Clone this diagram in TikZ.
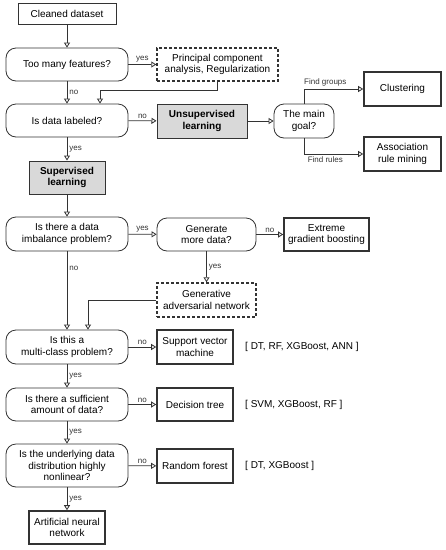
\documentclass[tikz,border=0pt]{standalone}
\usepackage{fontspec}
\setmainfont{Liberation Sans}
\usetikzlibrary{arrows.meta}
\definecolor{ln}{HTML}{333333}
\definecolor{gfill}{HTML}{D9D9D9}
\tikzset{
  base/.style={draw=ln, line width=0.8pt, inner sep=1pt, align=center, font=\fontsize{10}{11.5}\selectfont, text=black},
  rbox/.style={base, rounded corners=10pt},
  tbox/.style={base, line width=1.6pt},
  dbox/.style={base, line width=1.5pt, dash pattern=on 3pt off 2pt},
  gbox/.style={base, line width=1pt, fill=gfill, font=\fontsize{10}{11.5}\selectfont\bfseries},
  sz/.style 2 args={minimum width=#1pt, minimum height=#2pt},
  arr/.style={draw=ln, line width=0.8pt, -{Triangle[open, length=5pt, width=6pt]}},
  lab/.style={font=\fontsize{8}{9}\selectfont, text=ln, inner sep=2pt},
  note/.style={font=\fontsize{10}{11.5}\selectfont, anchor=west, inner sep=0pt}
}
\begin{document}
\begin{tikzpicture}[x=1pt,y=-1pt]
\useasboundingbox (0,0) rectangle (446,550);
\node[base, sz={98}{21}] (clean) at (67,13.5) {Cleaned dataset};
\node[rbox, sz={122}{33}] (feat) at (67,64.5) {Too many features?};
\node[dbox, sz={121}{33}] (pca) at (217.5,64.5) {Principal component\\analysis, Regularization};
\node[rbox, sz={122}{33}] (lab) at (67,120.5) {Is data labeled?};
\node[gbox, sz={90}{34}] (unsup) at (202,121) {Unsupervised\\learning};
\node[rbox, sz={60}{34}] (goal) at (304,121) {The main\\goal?};
\node[tbox, sz={77}{34}] (clus) at (402.5,89) {Clustering};
\node[tbox, sz={77}{34}] (assoc) at (402.5,154) {Association\\rule mining};
\node[gbox, sz={76}{33}] (sup) at (67,177.5) {Supervised\\learning};
\node[rbox, sz={122}{34}] (imb) at (67,234) {Is there a data\\imbalance problem?};
\node[rbox, sz={99}{33}] (gen) at (206.5,234.5) {Generate\\more data?};
\node[tbox, sz={85}{33}] (xgb) at (326.5,234.5) {Extreme\\gradient boosting};
\node[dbox, sz={99}{34}] (gan) at (206.5,300) {Generative\\adversarial network};
\node[rbox, sz={122}{34}] (multi) at (67,347) {Is this a\\multi-class problem?};
\node[tbox, sz={76}{34}] (svm) at (195,347) {Support vector\\machine};
\node[rbox, sz={122}{33}] (suff) at (67,404.5) {Is there a sufficient\\amount of data?};
\node[tbox, sz={76}{33}] (dt) at (195,404.5) {Decision tree};
\node[rbox, sz={122}{43}] (nonlin) at (67,465.5) {Is the underlying data\\distribution highly\\nonlinear?};
\node[tbox, sz={76}{34}] (rf) at (195,466) {Random forest};
\node[tbox, sz={76}{33}] (ann) at (67,527.5) {Artificial neural\\network};
\node[note] (n1) at (245,347) {[ DT, RF, XGBoost, ANN ]};
\node[note] (n2) at (245,404.5) {[ SVM, XGBoost, RF ]};
\node[note] (n3) at (245,466) {[ DT, XGBoost ]};
\coordinate (labin) at ([xshift=33pt]lab.north);
\coordinate (multin) at ([xshift=21pt]multi.north);
\draw[arr] (clean) -- (feat);
\draw[arr] (feat) -- node[lab, above] {yes} (pca);
\draw[arr] (feat) -- node[lab, right] {no} (lab);
\draw[arr] (pca.south) -- ++(0,9) -| (labin);
\draw[arr] (lab) -- node[lab, above] {no} (unsup);
\draw[arr] (lab) -- node[lab, right] {yes} (sup);
\draw[arr] (unsup) -- (goal);
\draw[arr] (goal.north) |- node[lab, above, pos=0.68] {Find groups} (clus.west);
\draw[arr] (goal.south) |- node[lab, below, pos=0.68] {Find rules} (assoc.west);
\draw[arr] (sup) -- (imb);
\draw[arr] (imb) -- node[lab, above] {yes} (gen);
\draw[arr] (gen) -- node[lab, above] {no} (xgb);
\draw[arr] (gen) -- node[lab, right] {yes} (gan);
\draw[arr] (gan.west) -| (multin);
\draw[arr] (imb) -- node[lab, right, pos=0.22] {no} (multi);
\draw[arr] (multi) -- node[lab, above] {no} (svm);
\draw[arr] (multi) -- node[lab, right] {yes} (suff);
\draw[arr] (suff) -- node[lab, above] {no} (dt);
\draw[arr] (suff) -- node[lab, right] {yes} (nonlin);
\draw[arr] (nonlin) -- node[lab, above] {no} (rf);
\draw[arr] (nonlin) -- node[lab, right] {yes} (ann);
\end{tikzpicture}
\end{document}
